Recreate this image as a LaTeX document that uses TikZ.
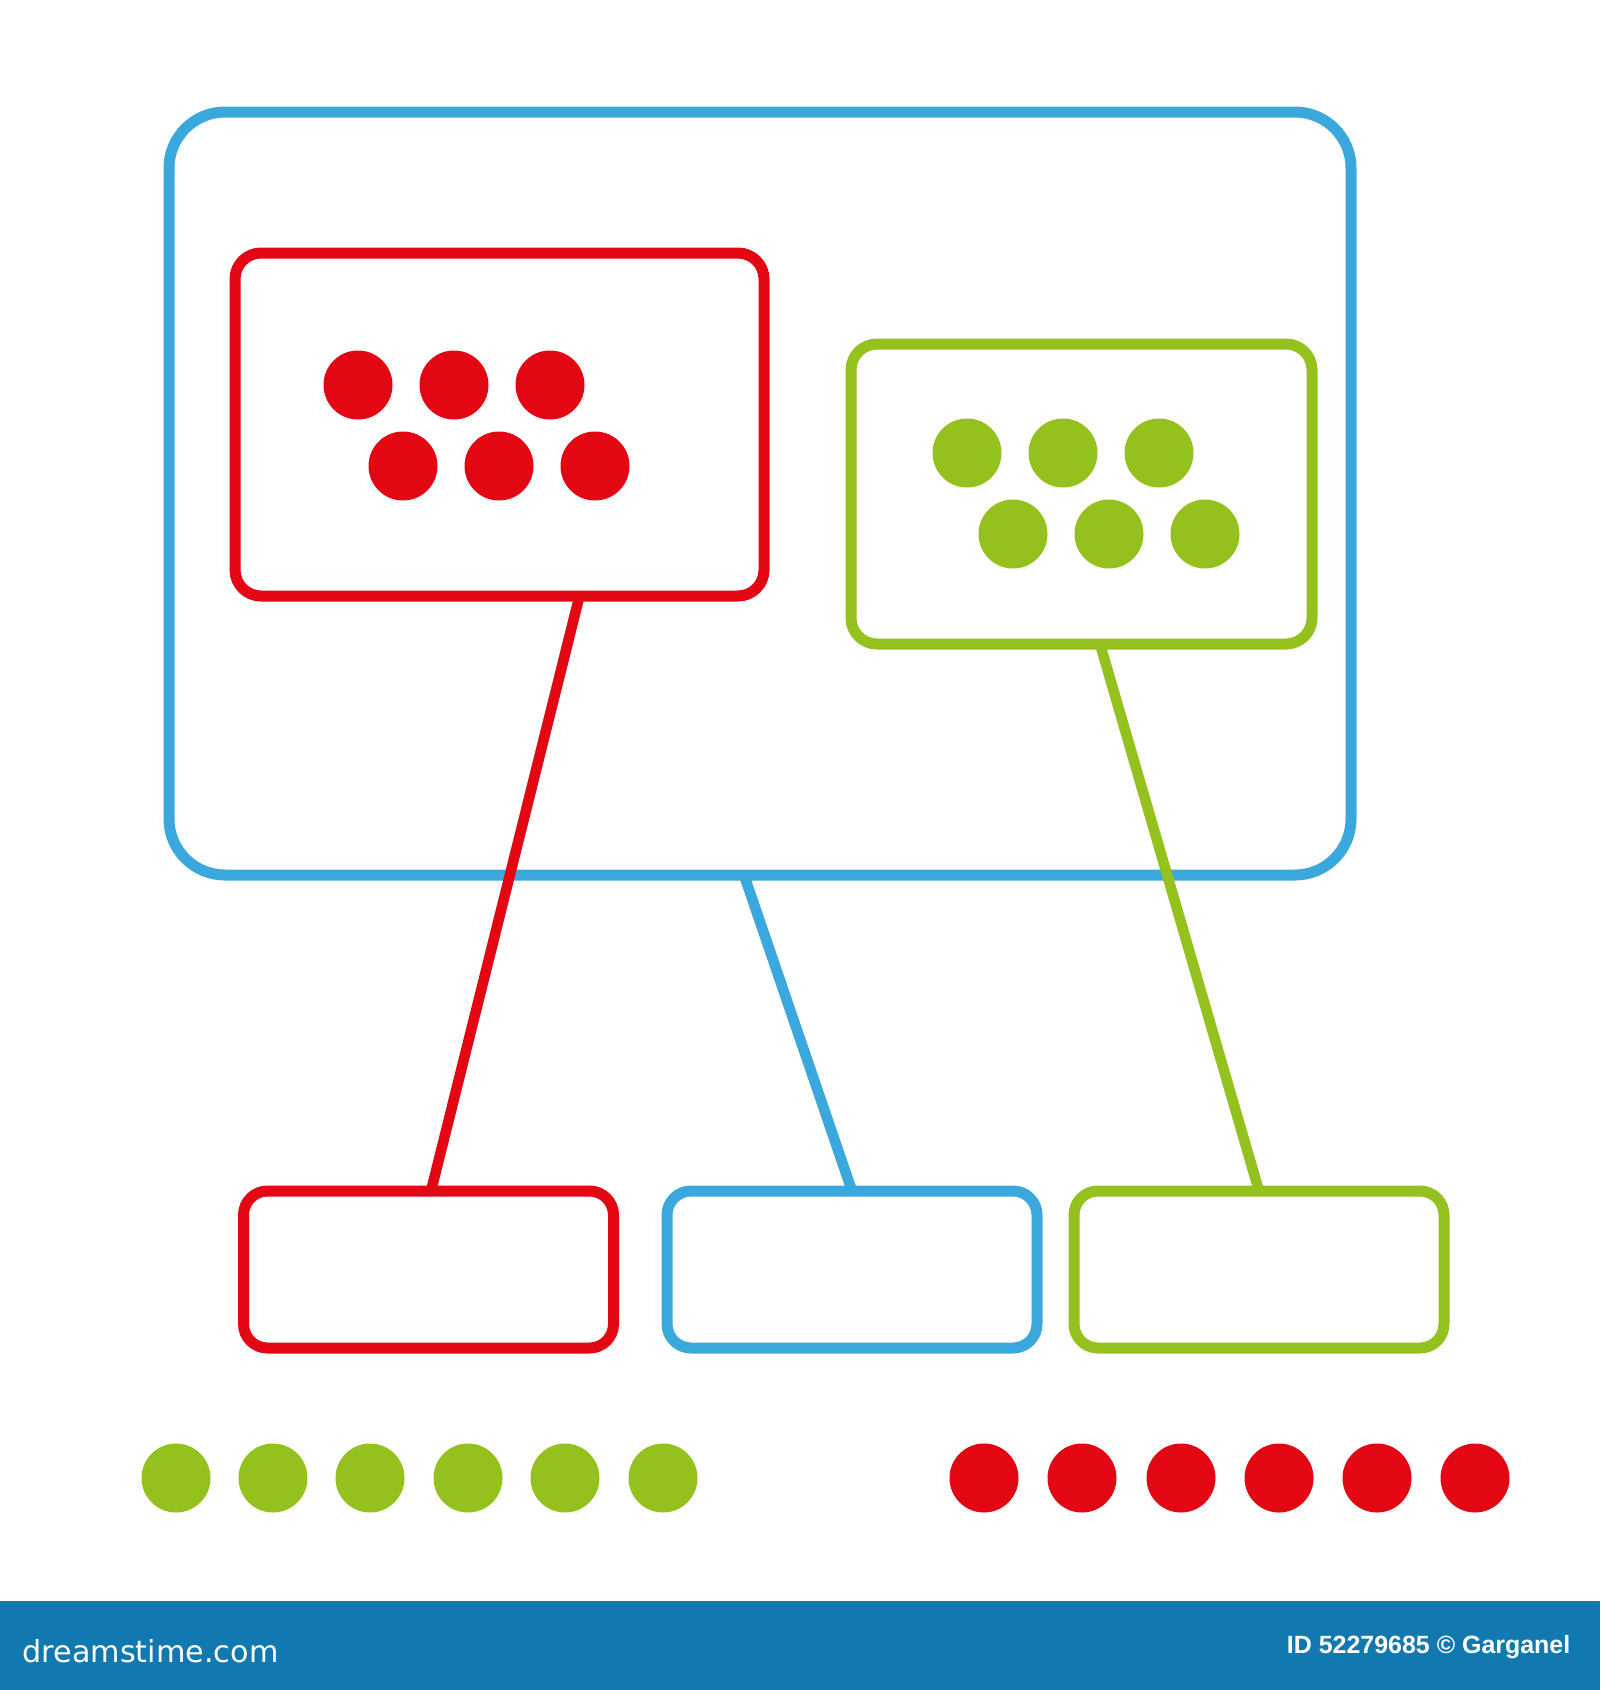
\documentclass[tikz,border=0pt]{standalone}
\usepackage{fontspec}
\setsansfont{DejaVu Sans}
\newfontfamily\idfont{Liberation Sans}

\definecolor{azul}{HTML}{3AA8DC}
\definecolor{rojo}{HTML}{E30613}
\definecolor{verde}{HTML}{95C11F}
\definecolor{franja}{HTML}{1178B0}

\begin{document}
\begin{tikzpicture}[x=0.1mm, y=-0.1mm,
    caja/.style={draw, line width=1.1mm, rounded corners=2.6mm, inner sep=0pt, outer sep=0pt},
    hoja/.style={caja, rounded corners=2.4mm, minimum width=37mm, minimum height=15.7mm},
    enlace/.style={line width=1.05mm}]
    \useasboundingbox (0,0) rectangle (1600,1690);

    % Caja grande y sus dos grupos
    \node[caja, draw=azul, rounded corners=5.6mm, minimum width=118.2mm, minimum height=76.3mm] (pantalla) at (760,493.5) {};
    \node[caja, draw=rojo, minimum width=52.9mm, minimum height=34.3mm] (grupoRojo) at (499.5,424.5) {};
    \node[caja, draw=verde, minimum width=46.1mm, minimum height=30mm] (grupoVerde) at (1081.5,494) {};

    % Puntos dentro de los grupos
    \foreach \x in {358, 454, 550} {
        \fill[rojo] (\x,385) circle (3.45mm);
        \fill[rojo] (\x+45,466) circle (3.45mm);
    }
    \foreach \x in {967, 1063, 1159} {
        \fill[verde] (\x,453) circle (3.45mm);
        \fill[verde] (\x+46,534) circle (3.45mm);
    }

    % Cajas de abajo
    \node[hoja, draw=rojo] (hojaRoja) at (428.5,1269.5) {};
    \node[hoja, draw=azul] (hojaAzul) at (852,1269.5) {};
    \node[hoja, draw=verde] (hojaVerde) at (1259,1269.5) {};

    % Lineas de union
    \draw[enlace, rojo] ([xshift=8mm]grupoRojo.south) -- ([xshift=0.25mm]hojaRoja.north);
    \draw[enlace, azul] ([xshift=-1.6mm]pantalla.south) -- (hojaAzul.north);
    \draw[enlace, verde] ([xshift=1.85mm]grupoVerde.south) -- (hojaVerde.north);

    % Fila de puntos sueltos
    \foreach \x in {176, 273, 370, 468, 565, 663} {
        \fill[verde] (\x,1478) circle (3.45mm);
    }
    \foreach \x in {984, 1082, 1181, 1279, 1377, 1475} {
        \fill[rojo] (\x,1478) circle (3.45mm);
    }

    % Franja inferior
    \fill[franja] (0,1601) rectangle (1600,1690);
    \node[anchor=base west, text=white, inner sep=0pt, font=\sffamily\fontsize{8.6}{10}\selectfont] (marca) at (22,1662) {dreamstime.com};
    \node[anchor=base east, text=white, inner sep=0pt, font=\idfont\bfseries\fontsize{7.1}{8}\selectfont] (autor) at (1571,1653) {ID 52279685 © Garganel};
\end{tikzpicture}
\end{document}
